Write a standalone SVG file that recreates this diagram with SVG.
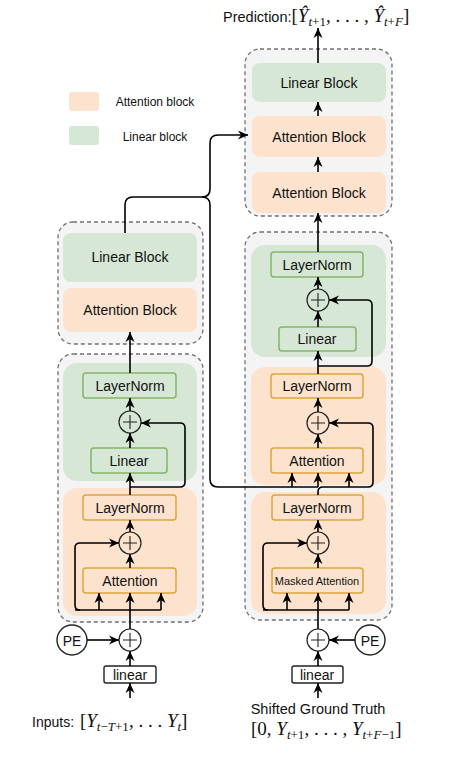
<svg xmlns="http://www.w3.org/2000/svg" width="474" height="758" viewBox="0 0 474 758">
<defs>
<marker id="ah" viewBox="0 0 10 10" refX="10" refY="5" markerWidth="10" markerHeight="10" markerUnits="userSpaceOnUse" orient="auto">
<path d="M0,0.5 L10,5 L0,9.5 L3,5 z" fill="#000"/>
</marker>
<style>
.cont{fill:#f4f4f4;stroke:#707070;stroke-width:1.3;stroke-dasharray:4 3}
.ob{fill:#fde3cd;stroke:none}
.gb{fill:#d6e8d5;stroke:none}
.obx{fill:#fde3cd;stroke:#dba73a;stroke-width:1.5}
.gbx{fill:#d6e8d5;stroke:#86b46a;stroke-width:1.5}
.wbx{fill:#fff;stroke:#222;stroke-width:1.4}
.circ{fill:none;stroke:#222;stroke-width:1.2}
.pl{stroke:#222;stroke-width:1.1;fill:none}
.t{font-family:"Liberation Sans",Arial,sans-serif;fill:#111;text-anchor:middle;dominant-baseline:central}
.t14{font-size:14px}
.t12{font-size:12px}
.t11{font-size:11px}
.c{fill:none;stroke:#000;stroke-width:1.6}
.a{fill:none;stroke:#000;stroke-width:1.6;marker-end:url(#ah)}
.ms{font-family:"Liberation Serif","Times New Roman",serif;fill:#111}
.mi{font-style:italic}
.sb{font-family:"Liberation Sans",Arial,sans-serif;fill:#111}
</style>
</defs>

<!-- legend -->
<g id="legend">
<rect x="69" y="92" width="30" height="19" rx="3" class="ob"/>
<text x="155" y="102" class="t t12">Attention block</text>
<rect x="69" y="126" width="30" height="19" rx="3" class="gb"/>
<text x="155" y="137" class="t t12">Linear block</text>
</g>

<!-- containers -->
<g id="left-top-container">
<rect x="58" y="222" width="145" height="122" rx="15" class="cont"/>
<g id="l-linear-block"><rect x="63" y="233" width="134" height="49" rx="8" class="gb"/><text x="130" y="257" class="t t14">Linear Block</text></g>
<g id="l-attention-block"><rect x="63" y="288" width="134" height="44" rx="8" class="ob"/><text x="130" y="310" class="t t14">Attention Block</text></g>
</g>

<g id="left-encoder-container">
<rect x="58" y="354" width="145" height="268" rx="15" class="cont"/>
<rect x="63" y="363" width="134" height="118" rx="14" class="gb"/>
<rect x="63" y="488" width="134" height="128" rx="14" class="ob"/>
</g>

<g id="right-top-container">
<rect x="245" y="49" width="147" height="167" rx="15" class="cont"/>
<g id="r-linear-block"><rect x="252" y="63" width="134" height="39" rx="8" class="gb"/><text x="319" y="83" class="t t14">Linear Block</text></g>
<g id="r-attention-block-1"><rect x="252" y="116" width="134" height="41" rx="8" class="ob"/><text x="319" y="137" class="t t14">Attention Block</text></g>
<g id="r-attention-block-2"><rect x="252" y="172" width="134" height="41" rx="8" class="ob"/><text x="319" y="193" class="t t14">Attention Block</text></g>
</g>

<g id="right-decoder-container">
<rect x="245" y="232" width="147" height="388" rx="15" class="cont"/>
<rect x="251" y="245" width="135" height="112" rx="14" class="gb"/>
<rect x="251" y="367" width="135" height="118" rx="14" class="ob"/>
<rect x="251" y="492" width="135" height="122" rx="14" class="ob"/>
</g>

<!-- left encoder nodes -->
<g id="l-layernorm2"><rect x="83" y="373" width="93" height="25" rx="3" class="gbx"/><text x="130" y="386" class="t t14">LayerNorm</text></g>
<g id="l-add2"><circle cx="130" cy="422" r="11" class="circ"/><path d="M123,422 H137 M130,415 V429" class="pl"/></g>
<g id="l-linear"><rect x="91" y="448" width="76" height="25" rx="3" class="gbx"/><text x="129" y="461" class="t t14">Linear</text></g>
<g id="l-layernorm1"><rect x="83" y="495" width="93" height="25" rx="3" class="obx"/><text x="130" y="508" class="t t14">LayerNorm</text></g>
<g id="l-add1"><circle cx="130" cy="543" r="11" class="circ"/><path d="M123,543 H137 M130,536 V550" class="pl"/></g>
<g id="l-attention"><rect x="83" y="568" width="93" height="25" rx="3" class="obx"/><text x="130" y="581" class="t t14">Attention</text></g>
<g id="l-pe"><circle cx="72" cy="640" r="15" class="circ" style="stroke-width:1.4"/><text x="72" y="641" class="t t14">PE</text></g>
<g id="l-add0"><circle cx="130" cy="640" r="11" class="circ"/><path d="M123,640 H137 M130,633 V647" class="pl"/></g>
<g id="l-input-linear"><rect x="104" y="666" width="52" height="17" rx="2" class="wbx"/><text x="130" y="675" class="t t14">linear</text></g>
<g id="l-inputs">
<text x="32" y="727" class="sb" font-size="14">Inputs: <tspan class="ms" font-size="19" dx="2">[</tspan><tspan class="ms mi" font-size="19">Y</tspan><tspan class="ms mi" font-size="13" dy="4">t</tspan><tspan class="ms" font-size="13">−</tspan><tspan class="ms mi" font-size="13">T</tspan><tspan class="ms" font-size="13">+1</tspan><tspan class="ms" font-size="19" dy="-4">, . . . </tspan><tspan class="ms mi" font-size="19">Y</tspan><tspan class="ms mi" font-size="13" dy="4">t</tspan><tspan class="ms" font-size="19" dy="-4">]</tspan></text>
</g>

<!-- right decoder nodes -->
<g id="r-layernorm3"><rect x="271" y="252" width="92" height="25" rx="3" class="gbx"/><text x="317" y="265" class="t t14">LayerNorm</text></g>
<g id="r-add3"><circle cx="318" cy="300" r="11" class="circ"/><path d="M311,300 H325 M318,293 V307" class="pl"/></g>
<g id="r-linear"><rect x="279" y="327" width="77" height="24" rx="3" class="gbx"/><text x="317" y="339" class="t t14">Linear</text></g>
<g id="r-layernorm2"><rect x="271" y="374" width="92" height="24" rx="3" class="obx"/><text x="317" y="386" class="t t14">LayerNorm</text></g>
<g id="r-add2"><circle cx="318" cy="423" r="11" class="circ"/><path d="M311,423 H325 M318,416 V430" class="pl"/></g>
<g id="r-attention"><rect x="271" y="448" width="92" height="25" rx="3" class="obx"/><text x="317" y="461" class="t t14">Attention</text></g>
<g id="r-layernorm1"><rect x="272" y="495" width="91" height="25" rx="3" class="obx"/><text x="317" y="508" class="t t14">LayerNorm</text></g>
<g id="r-add1"><circle cx="318" cy="543" r="11" class="circ"/><path d="M311,543 H325 M318,536 V550" class="pl"/></g>
<g id="r-masked-attention"><rect x="272" y="568" width="91" height="25" rx="3" class="obx"/><text x="317" y="581" class="t t11">Masked Attention</text></g>
<g id="r-add0"><circle cx="318" cy="640" r="11" class="circ"/><path d="M311,640 H325 M318,633 V647" class="pl"/></g>
<g id="r-pe"><circle cx="370" cy="640" r="15" class="circ" style="stroke-width:1.4"/><text x="370" y="641" class="t t14">PE</text></g>
<g id="r-input-linear"><rect x="292" y="666" width="51" height="17" rx="2" class="wbx"/><text x="317" y="675" class="t t14">linear</text></g>
<g id="r-inputs">
<text x="318" y="714" class="t" font-size="14.5" style="dominant-baseline:auto">Shifted Ground Truth</text>
<text x="251" y="735" class="ms" font-size="19">[0, <tspan class="mi">Y</tspan><tspan font-size="13" dy="4"><tspan class="mi">t</tspan>+1</tspan><tspan dy="-4">, . . . , </tspan><tspan class="mi">Y</tspan><tspan font-size="13" dy="4"><tspan class="mi">t</tspan>+<tspan class="mi">F</tspan>−1</tspan><tspan dy="-4">]</tspan></text>
</g>

<g id="prediction">
<text x="223" y="22" class="sb" font-size="14.5">Prediction:<tspan class="ms" font-size="19">[</tspan><tspan class="ms mi" font-size="19">Ŷ</tspan><tspan class="ms" font-size="13" dy="4"><tspan class="mi">t</tspan>+1</tspan><tspan class="ms" font-size="19" dy="-4">, . . . , </tspan><tspan class="ms mi" font-size="19">Ŷ</tspan><tspan class="ms" font-size="13" dy="4"><tspan class="mi">t</tspan>+<tspan class="mi">F</tspan></tspan><tspan class="ms" font-size="19" dy="-4">]</tspan></text>
</g>

<!-- connectors -->
<g id="connectors">
<!-- left encoder -->
<path d="M130,698 V683" class="a"/>
<path d="M130,666 V651" class="a"/>
<path d="M87,640 H119" class="a"/>
<path d="M130,629 V593" class="a"/>
<path d="M75,610 H161" class="c"/>
<path d="M99,610 V593" class="a"/>
<path d="M161,610 V593" class="a"/>
<path d="M80,610 q-5,0 -5,-5 V548 q0,-5 5,-5 H119" class="a"/>
<path d="M130,568 V554" class="a"/>
<path d="M130,532 V520" class="a"/>
<path d="M130,495 V473" class="a"/>
<path d="M130,487 H180 q5,0 5,-5 V428 q0,-5 -5,-5 H141" class="a"/>
<path d="M130,448 V433" class="a"/>
<path d="M130,411 V398" class="a"/>
<path d="M130,373 V332" class="a"/>
<!-- encoder output to decoder -->
<path d="M125,233 V205 q0,-8 8,-8 H202 q8,0 8,-8 V143 q0,-8 8,-8 H248" class="a"/>
<path d="M202,197 q8,0 8,8 V479 q0,8 8,8 H318" class="c"/>
<!-- right decoder -->
<path d="M318,698 V683" class="a"/>
<path d="M318,666 V651" class="a"/>
<path d="M355,640 H329" class="a"/>
<path d="M318,629 V593" class="a"/>
<path d="M263,610 H349" class="c"/>
<path d="M287,610 V593" class="a"/>
<path d="M349,610 V593" class="a"/>
<path d="M268,610 q-5,0 -5,-5 V548 q0,-5 5,-5 H307" class="a"/>
<path d="M318,568 V554" class="a"/>
<path d="M318,532 V520" class="a"/>
<path d="M318,495 V492 q0,-5 5,-5 H368 q5,0 5,-5 V428 q0,-5 -5,-5 H329" class="a"/>
<path d="M292,487 V473" class="a"/>
<path d="M318,487 V473" class="a"/>
<path d="M349,487 V473" class="a"/>
<path d="M318,448 V434" class="a"/>
<path d="M318,412 V398" class="a"/>
<path d="M318,374 V351" class="a"/>
<path d="M318,366 H367 q5,0 5,-5 V305 q0,-5 -5,-5 H329" class="a"/>
<path d="M318,327 V311" class="a"/>
<path d="M318,289 V277" class="a"/>
<path d="M318,252 V213" class="a"/>
<path d="M318,172 V157" class="a"/>
<path d="M318,116 V102" class="a"/>
<path d="M318,63 V28" class="a"/>
</g>
</svg>
